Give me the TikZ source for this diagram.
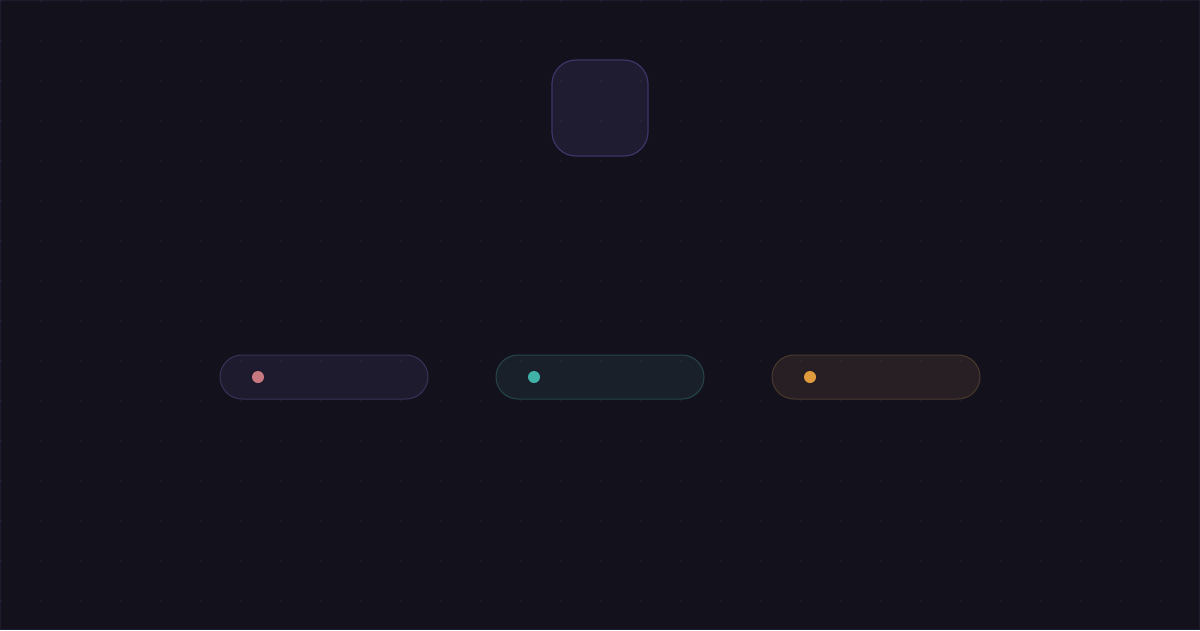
\documentclass[tikz,border=0pt]{standalone}
\definecolor{bg}{HTML}{13121C}
\definecolor{boxfill}{HTML}{1F1C31}
\definecolor{boxline}{HTML}{3D3668}
\definecolor{pAfill}{HTML}{1E1B2F}
\definecolor{pAline}{HTML}{393259}
\definecolor{pAdot}{HTML}{C8787F}
\definecolor{pBfill}{HTML}{1A202A}
\definecolor{pBline}{HTML}{25464A}
\definecolor{pBdot}{HTML}{40B2A8}
\definecolor{pCfill}{HTML}{271F23}
\definecolor{pCline}{HTML}{4A3A2E}
\definecolor{pCdot}{HTML}{DF9B3C}
\definecolor{griddot}{HTML}{3A3560}
\tikzset{
  hub/.style={draw=boxline, fill=boxfill, line width=1.2pt, rounded corners=24pt,
    minimum width=96pt, minimum height=96pt, inner sep=0pt},
  pill/.style={rounded corners=22pt, line width=1pt, minimum width=208pt,
    minimum height=44pt, inner sep=0pt},
  pdot/.style={circle, minimum size=12pt, inner sep=0pt},
}
\begin{document}
\begin{tikzpicture}[x=1pt,y=-1pt]
\fill[bg] (0,0) rectangle (1200,630);
\useasboundingbox (0,0) rectangle (1200,630);
\draw[color={rgb,255:red,30;green,28;blue,44}, line width=1pt] (0.5,0.5) rectangle (1199.5,629.5);
\node[hub] (hub) at (600,108) {};
\node[pill, draw=pAline, fill=pAfill] (pA) at (324,377) {};
\node[pill, draw=pBline, fill=pBfill] (pB) at (600,377) {};
\node[pill, draw=pCline, fill=pCfill] (pC) at (876,377) {};
\node[pdot, fill=pAdot] (dA) at (258,377) {};
\node[pdot, fill=pBdot] (dB) at (534,377) {};
\node[pdot, fill=pCdot] (dC) at (810,377) {};
\foreach \i in {0,40,...,1200}{
  \foreach \j in {0,40,...,600}{
    \fill[griddot, opacity=0.45] (\i+1,\j+1) circle (1pt);
  }
}
\end{tikzpicture}
\end{document}
